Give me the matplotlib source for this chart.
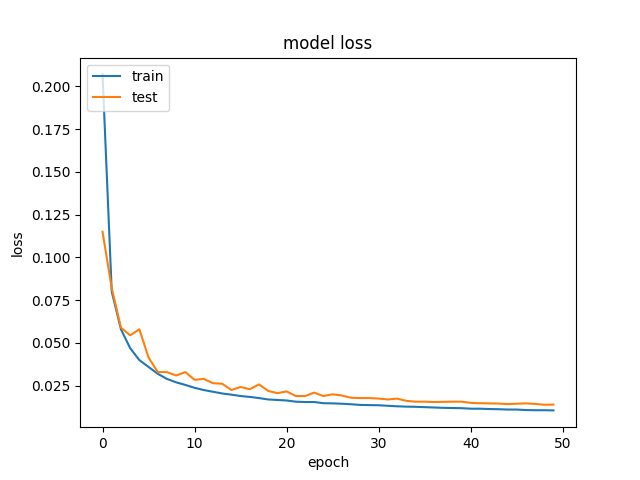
import matplotlib
matplotlib.use("Agg")
import matplotlib.pyplot as plt

train_loss = [
    0.207, 0.080, 0.058, 0.047, 0.040, 0.036, 0.032, 0.029, 0.027, 0.0255,
    0.0238, 0.0225, 0.0215, 0.0205, 0.0198, 0.0190, 0.0185, 0.0178, 0.0170, 0.0167,
    0.0164, 0.0157, 0.0155, 0.0155, 0.0148, 0.0147, 0.0145, 0.0142, 0.0138, 0.0137,
    0.0136, 0.0133, 0.0130, 0.0128, 0.0127, 0.0125, 0.0123, 0.0121, 0.0120, 0.0119,
    0.0116, 0.0116, 0.0114, 0.0113, 0.0111, 0.0111, 0.0108, 0.0107, 0.0107, 0.0106,
]
test_loss = [
    0.115, 0.082, 0.059, 0.0545, 0.058, 0.0415, 0.033, 0.033, 0.031, 0.033,
    0.0285, 0.029, 0.0265, 0.0262, 0.0225, 0.0243, 0.0230, 0.0258, 0.0220, 0.0207,
    0.0217, 0.0190, 0.0190, 0.0210, 0.0190, 0.0200, 0.0193, 0.0180, 0.0178, 0.0178,
    0.0175, 0.0170, 0.0175, 0.0162, 0.0157, 0.0157, 0.0155, 0.0156, 0.0157, 0.0157,
    0.0150, 0.0148, 0.0147, 0.0146, 0.0143, 0.0145, 0.0147, 0.0144, 0.0139, 0.0140,
]

fig = plt.figure(figsize=(6.4, 4.8), dpi=100)
plt.plot(train_loss)
plt.plot(test_loss)
plt.title("model loss")
plt.ylabel("loss")
plt.xlabel("epoch")
plt.legend(["train", "test"], loc="upper left")
fig.savefig("out.png")
